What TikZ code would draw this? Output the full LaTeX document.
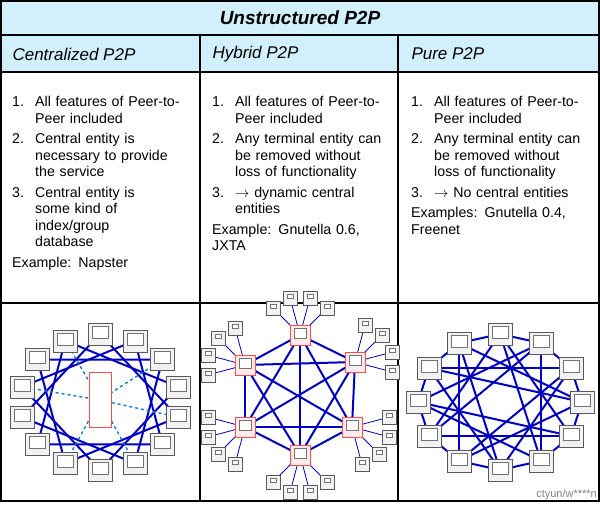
\documentclass[tikz,border=0pt]{standalone}
\usepackage{fontspec}
\setmainfont{Liberation Sans}
\usetikzlibrary{calc}
\newcommand{\itm}[2]{\par\hyphenpenalty=10000\hangindent=23pt\hangafter=1\noindent\makebox[23pt][l]{#1}#2\par\vspace{4pt}}
\begin{document}
\begin{tikzpicture}
	[x=1pt, y=-1pt,
		headFill/.style	={fill=cyan!18!white
									},
		cellText/.style	={anchor=north west
									, text width=172pt
									, align=left
									, inner sep=0pt
									, font=\fontsize{14.2}{16.5}\selectfont
									},
		pc/.style		 	={rectangle
									, draw=black!65
									, fill=gray!10
									, minimum width=24pt
									, minimum height=22pt
									, inner sep=0pt
									, path picture={\draw[black!55, fill=white]
										([shift={(4pt,7pt)}]path picture bounding box.south west)
										rectangle ([shift={(-4pt,-3pt)}]path picture bounding box.north east);}
									},
		smallpc/.style		={pc
									, minimum width=14pt
									, minimum height=14pt
									},
		superpc/.style		={pc
									, draw=red!70
									, fill=red!8
									, minimum width=20pt
									, minimum height=20pt
									},
		server/.style		={rectangle
									, draw=red!70
									, fill=white
									, minimum width=22pt
									, minimum height=55pt
									},
		link/.style		 	={draw=blue!75!black
									, line width=2pt
									},
		thinlink/.style		={draw=blue!75!black
									, line width=0.8pt
									},
		dashlink/.style		={draw=cyan!60!blue
									, dashed
									, line width=1.4pt
									}
	]
\useasboundingbox (0,0) rectangle (600,504);
% table
\fill[headFill] (0,0) rectangle (600,72);
\draw[line width=1.5pt] (1,1) rectangle (599,501);
\draw[line width=1.2pt] (1,35) -- (599,35);
\draw[line width=1.2pt] (1,72) -- (599,72);
\draw[line width=1.2pt] (1,303) -- (599,303);
\draw[line width=1.2pt] (200,35) -- (200,501);
\draw[line width=1.2pt] (398,35) -- (398,501);

\node (title) at (300,18) {\fontsize{19}{22}\selectfont\bfseries\itshape Unstructured P2P};
\node[anchor=west] (head 1) at (9,54) {\fontsize{17}{20}\selectfont\itshape Centralized P2P};
\node[anchor=west] (head 2) at (209,54) {\fontsize{17}{20}\selectfont\itshape Hybrid P2P};
\node[anchor=west] (head 3) at (408,54) {\fontsize{17}{20}\selectfont\itshape Pure P2P};

\node[cellText] (text 1) at (12,90) {%
	\itm{1.}{All features of Peer-to-Peer included}
	\itm{2.}{Central entity is necessary to provide the service}
	\itm{3.}{Central entity is\newline some kind of\newline index/group\newline database}
	\noindent Example: Napster};
\node[cellText] (text 2) at (212,90) {%
	\itm{1.}{All features of Peer-to-Peer included}
	\itm{2.}{Any terminal entity can be removed without loss of functionality}
	\itm{3.}{$\rightarrow$ dynamic central entities}
	\noindent Example: Gnutella 0.6, JXTA};
\node[cellText] (text 3) at (411,90) {%
	\itm{1.}{All features of Peer-to-Peer included}
	\itm{2.}{Any terminal entity can be removed without loss of functionality}
	\itm{3.}{$\rightarrow$ No central entities}
	\noindent Examples: Gnutella 0.4, Freenet};

% centralized
\foreach \i in {0,...,13}
	\coordinate (c\i) at ({100+80*cos(90+\i*360/14)},{402+68*sin(90+\i*360/14)});
\coordinate (srv) at (100,400);
\foreach \i [evaluate=\i as \j using {int(mod(\i+4,14))}] in {0,...,13}
	\path[link] (c\i) -- (c\j);
\foreach \i in {1,4,6,9,11,13}
	\path[dashlink] (srv) -- (c\i);
\node[server] (central server) at (srv) {};
\foreach \i in {0,...,13}
	\node[pc] (c pc \i) at (c\i) {};

% hybrid
\foreach \i/\x/\y in {0/300/335, 1/355/362, 2/352/427, 3/300/455, 4/245/427, 5/245/365}
	\coordinate (h\i) at (\x,\y);
\foreach \a/\b in {0/1,0/2,0/4,0/5,1/2,1/3,1/4,1/5,2/3,2/4,2/5,3/4,3/5,4/5,0/3}
	\path[link] (h\a) -- (h\b);
\foreach \i/\x/\y/\ang in {0/300/335/-90, 1/355/362/-30, 2/352/427/30, 3/300/455/90, 4/245/427/150, 5/245/365/210}
	\foreach \k in {-1,0,1,2}
		\coordinate (h\i l\k) at ({\x+38*cos(\ang+30*\k-15)},{\y+38*sin(\ang+30*\k-15)});
\foreach \i in {0,...,5}
	\foreach \k in {-1,0,1,2}
		\path[thinlink] (h\i) -- (h\i l\k);
\foreach \i in {0,...,5}{
	\node[superpc] (super \i) at (h\i) {};
	\foreach \k in {-1,0,1,2}
		\node[smallpc] (leaf \i\k) at (h\i l\k) {};
}

% pure
\foreach \i in {0,...,11}
	\coordinate (p\i) at ({500+82*cos(90+\i*30)},{402+68*sin(90+\i*30)});
\foreach \i [evaluate=\i as \j using {int(mod(\i+1,12))},
			 evaluate=\i as \k using {int(mod(\i+4,12))}] in {0,...,11}{
	\path[link] (p\i) -- (p\j);
	\path[link] (p\i) -- (p\k);
}
\foreach \i [evaluate=\i as \m using {int(mod(\i+5,12))}] in {0,2,...,10}
	\path[link] (p\i) -- (p\m);
\foreach \i in {0,...,11}
	\node[pc] (p pc \i) at (p\i) {};

\node[text=gray, anchor=south east, inner sep=1pt] (mark) at (598,501) {\fontsize{11}{12}\selectfont ctyun/w****n};
\end{tikzpicture}
\end{document}
